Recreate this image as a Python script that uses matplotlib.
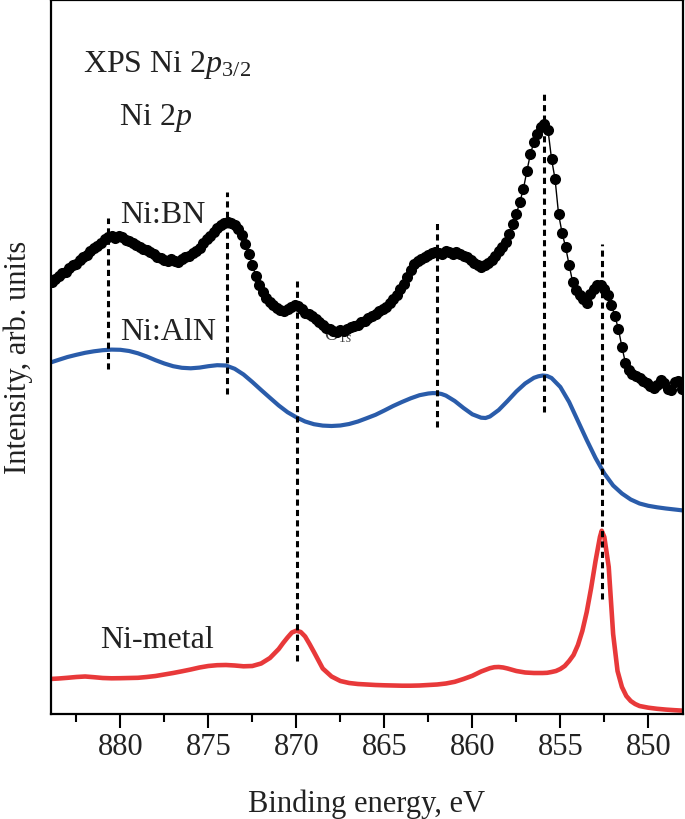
import numpy as np
import matplotlib
matplotlib.use("Agg")
import matplotlib.pyplot as plt
from matplotlib.ticker import MultipleLocator

plt.rcParams['font.family'] = ['Liberation Serif', 'DejaVu Serif']
plt.rcParams['mathtext.fontset'] = 'custom'
plt.rcParams['mathtext.rm'] = 'Liberation Serif'
plt.rcParams['mathtext.it'] = 'Liberation Serif:italic'

# ---------------- data ----------------
# Ni:BN (black points), binding energy 883.9 -> 848.1 eV, step 0.2 eV
bn_energy = np.linspace(883.9, 848.1, 180)
bn_intensity = [
    432, 435, 438, 441, 442, 446, 449, 450, 454, 457,
    459, 463, 466, 468, 471, 475, 477, 478, 476, 478,
    477, 474, 473, 471, 469, 467, 465, 464, 462, 460,
    457, 456, 454, 453, 455, 453, 452, 455, 457, 458,
    461, 463, 466, 471, 475, 478, 482, 486, 489, 491,
    492, 491, 489, 485, 479, 470, 460, 449, 438, 429,
    422, 416, 412, 409, 406, 404, 403, 405, 407, 409,
    408, 405, 401, 400, 398, 395, 392, 389, 386, 385,
    383, 382, 384, 383, 385, 387, 388, 389, 392, 393,
    396, 398, 400, 403, 405, 407, 411, 415, 419, 425,
    430, 437, 444, 450, 453, 455, 457, 459, 461, 462,
    461, 460, 463, 462, 460, 462, 460, 458, 457, 454,
    451, 449, 447, 449, 451, 454, 458, 463, 467, 472,
    480, 490, 500, 512, 525, 543, 560, 572, 580, 587,
    590, 584, 555, 535, 500, 481, 467, 449, 432, 424,
    419, 415, 411, 420, 425, 429, 429, 425, 419, 409,
    398, 385, 367, 351, 344, 340, 338, 336, 333, 331,
    328, 326, 329, 334, 331, 325, 324, 332, 333, 325,
]

# Ni:AlN (blue line)
aln_energy = [
    884.0, 883.5, 883.0, 882.5, 882.0, 881.5, 881.0, 880.5, 880.0, 879.5,
    879.0, 878.5, 878.0, 877.5, 877.0, 876.5, 876.0, 875.5, 875.0, 874.5,
    874.0, 873.5, 873.0, 872.5, 872.0, 871.5, 871.0, 870.5, 870.0, 869.5,
    869.0, 868.5, 868.0, 867.5, 867.0, 866.5, 866.0, 865.5, 865.0, 864.5,
    864.0, 863.5, 863.0, 862.5, 862.25, 862.0, 861.75, 861.5, 861.0, 860.5,
    860.0, 859.5, 859.25, 859.0, 858.5, 858.0, 857.5, 857.0, 856.5, 856.25,
    856.0, 855.75, 855.5, 855.0, 854.5, 854.0, 853.5, 853.0, 852.5, 852.0,
    851.5, 851.0, 850.5, 850.0, 849.5, 849.0, 848.5, 848.0,
]
aln_intensity = [
    351.3, 354.2, 357.0, 359.2, 361.2, 362.7, 363.8, 364.4, 364.2, 363.0,
    360.7, 357.5, 353.8, 350.5, 347.8, 346.2, 345.7, 346.4, 347.8, 348.8,
    348.5, 345.2, 339.5, 332.0, 324.0, 316.2, 308.5, 301.8, 296.7, 292.5,
    289.8, 288.4, 288.0, 288.5, 290.0, 292.5, 295.8, 299.2, 303.5, 308.0,
    312.0, 315.7, 318.8, 320.5, 320.9, 320.8, 320.0, 318.4, 313.0, 306.0,
    299.7, 296.3, 296.0, 297.5, 304.0, 313.0, 322.5, 330.5, 336.2, 337.7,
    338.5, 338.0, 336.0, 327.0, 312.0, 293.0, 274.0, 256.0, 240.5, 228.5,
    220.5, 214.5, 210.5, 208.2, 206.7, 205.5, 204.5, 203.5,
]

# Ni-metal (red line)
metal_energy = [
    884.0, 883.5, 883.0, 882.5, 882.0, 881.5, 881.0, 880.5, 880.0, 879.5,
    879.0, 878.5, 878.0, 877.5, 877.0, 876.5, 876.0, 875.5, 875.0, 874.5,
    874.0, 873.5, 873.0, 872.5, 872.0, 871.5, 871.0, 870.75, 870.5, 870.25,
    870.0, 869.75, 869.5, 869.25, 869.0, 868.5, 868.0, 867.5, 867.0, 866.5,
    866.0, 865.5, 865.0, 864.5, 864.0, 863.5, 863.0, 862.5, 862.0, 861.5,
    861.0, 860.5, 860.0, 859.5, 859.0, 858.75, 858.5, 858.25, 858.0, 857.5,
    857.0, 856.5, 856.0,
    855.75, 855.5, 855.25, 855.0, 854.75, 854.5, 854.25, 854.0, 853.75, 853.5,
    853.25, 853.0, 852.75, 852.65, 852.5, 852.25, 852.0, 851.75, 851.5, 851.25,
    851.0, 850.75, 850.5, 850.0, 849.5, 849.0, 848.5, 848.0,
]
metal_intensity = [
    35.0, 35.5, 36.2, 37.0, 37.5, 36.8, 36.0, 35.7, 35.8, 36.0,
    36.2, 37.0, 38.0, 39.5, 41.0, 42.7, 44.5, 46.5, 48.0, 48.8,
    49.0, 48.5, 47.7, 48.0, 50.5, 56.0, 65.0, 71.0, 76.5, 81.5,
    83.3, 82.0, 77.5, 70.0, 62.0, 45.5, 37.5, 33.0, 31.0, 30.0,
    29.5, 29.0, 28.7, 28.5, 28.3, 28.3, 28.5, 29.0, 29.5, 30.5,
    32.2, 35.0, 38.2, 42.5, 45.8, 46.8, 47.0, 46.5, 45.5, 43.0,
    41.5, 41.0, 41.0,
    41.2, 42.0, 43.0, 45.0, 48.0, 53.0, 59.0, 69.0, 83.0, 102.0,
    126.0, 153.0, 177.0, 183.3, 177.0, 147.0, 80.0, 43.0, 27.0, 18.0,
    13.0, 10.0, 8.0, 6.3, 5.2, 4.4, 3.8, 3.3,
]

# dashed marker lines: energy, lower, upper intensity
peak_energy = [880.7, 873.95, 869.98, 862.0, 855.93, 852.65]
peak_low = [345, 320, 53, 287, 302, 115]
peak_high = [496, 522, 433, 493, 620, 470]

xticks = [880, 875, 870, 865, 860, 855, 850]

# ---------------- figure ----------------
fig = plt.figure(figsize=(6.85, 8.2), dpi=100)
ax = fig.add_axes([51 / 685, 105 / 820, 632 / 685, 714 / 820])

ax.plot(metal_energy, metal_intensity, color='#e8393a', lw=3.3, zorder=2,
        solid_capstyle='round', solid_joinstyle='round')
ax.plot(aln_energy, aln_intensity, color='#2a5caa', lw=3.0, zorder=2,
        solid_joinstyle='round')
ax.text(868.45, 375, r'O$_{1s}$', fontsize=14, color='#444444', zorder=1)
ax.plot(bn_energy, bn_intensity, color='black', lw=1.0, marker='o',
        markersize=8, markeredgewidth=0, zorder=3)

for e, lo, hi in zip(peak_energy, peak_low, peak_high):
    ax.plot([e, e], [lo, hi], color='black', lw=2.2,
            linestyle=(0, (2.0, 1.4)), zorder=4)

txt_kw = dict(fontsize=23, color='#222222')
ax.text(882.1, 643.3, r'XPS Ni 2$\it{p}_{3/2}$', **txt_kw)
ax.text(880.06, 590, r'Ni 2$\it{p}$', **txt_kw)
ax.text(880.0, 491.7, 'Ni:BN', **txt_kw)
ax.text(880.0, 375, 'Ni:AlN', **txt_kw)
ax.text(881.15, 66.7, 'Ni-metal', **txt_kw)

ax.set_xlim(883.94, 848.03)
ax.set_ylim(0, 714)
ax.set_xticks(xticks)
ax.set_xticklabels([str(t) for t in xticks])
ax.xaxis.set_minor_locator(MultipleLocator(2.5))
ax.set_yticks([])
ax.tick_params(axis='x', which='major', direction='out', length=10, width=1.5,
               labelsize=22, pad=3, labelcolor='#222222')
ax.tick_params(axis='x', which='minor', direction='out', length=6, width=1.5)
for s in ax.spines.values():
    s.set_linewidth(1.6)

ax.set_xlabel('Binding energy, eV', fontsize=22, color='#222222', labelpad=20)
fig.text(18 / 685, 1 - 357 / 820, 'Intensity, arb. units', rotation=90,
         ha='center', va='center', fontsize=22, color='#222222')

fig.savefig('out.png', dpi=100)
